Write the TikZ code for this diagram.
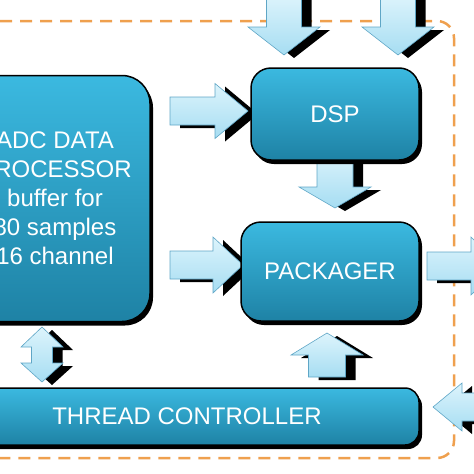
\documentclass[tikz,border=0pt]{standalone}
\usepackage{fontspec}
\setmainfont{Liberation Sans}
\usetikzlibrary{shadows}

\definecolor{boxtop}{HTML}{3BB9E0}
\definecolor{boxbot}{HTML}{1E82A5}
\definecolor{arrowtop}{HTML}{DDF4FC}
\definecolor{arrowbot}{HTML}{A6DDF2}
\definecolor{arrowline}{HTML}{5FA6C6}
\definecolor{frameorange}{HTML}{EFA04E}

\tikzset{
  block/.style={draw=black, line width=1.5pt, top color=boxtop, bottom color=boxbot,
    text=white, rounded corners=20pt, align=center, inner sep=0pt,
    font=\fontsize{24}{29}\selectfont,
    drop shadow={shadow xshift=3pt, shadow yshift=-4pt, fill=black, opacity=1}},
  bigarrow/.style={draw=arrowline, line width=0.6pt, top color=arrowtop, bottom color=arrowbot,
    drop shadow={shadow xshift=10pt, shadow yshift=-3pt, fill=black, opacity=1}},
  frame/.style={draw=frameorange, line width=2.5pt, dash pattern=on 12pt off 8pt, rounded corners=17pt}
}

\begin{document}
\begin{tikzpicture}[x=1pt, y=-1pt]
  \useasboundingbox (0,0) rectangle (474,474);
  \clip (0,0) rectangle (474,474);

  % dashed frame
  \draw[frame] (-20,21) -- (454,21) -- (454,458) -- (-20,458);

  % block arrows
  \draw[bigarrow] (266.5,-5) -- (266.5,27) -- (248,27) -- (284,55) -- (320,27) -- (301.5,27) -- (301.5,-5) -- cycle;
  \draw[bigarrow] (380.5,-5) -- (380.5,27) -- (362,27) -- (398,55) -- (434,27) -- (415.5,27) -- (415.5,-5) -- cycle;
  \draw[bigarrow] (170,97) -- (215,97) -- (215,83.5) -- (248,111) -- (215,138.5) -- (215,125) -- (170,125) -- cycle;
  \draw[bigarrow] (317,150) -- (353,150) -- (353,187) -- (371,187) -- (335,208) -- (299,187) -- (317,187) -- cycle;
  \draw[bigarrow] (170,251) -- (213,251) -- (213,237) -- (243,265) -- (213,293) -- (213,279) -- (170,279) -- cycle;
  \draw[bigarrow] (427,252) -- (471,252) -- (471,237) -- (501,266) -- (471,295) -- (471,280) -- (427,280) -- cycle;
  \draw[bigarrow] (308.5,377) -- (308.5,355) -- (291,355) -- (327,333) -- (363,355) -- (345.5,355) -- (345.5,377) -- cycle;
  \draw[bigarrow] (42,327) -- (63,347) -- (52.5,347) -- (52.5,363) -- (63,363) -- (42,382) -- (21,363) -- (31.5,363) -- (31.5,347) -- (21,347) -- cycle;
  \draw[bigarrow] (433,407) -- (462,383) -- (462,393) -- (490,393) -- (490,421) -- (462,421) -- (462,431) -- cycle;

  % blocks
  \node[block, minimum width=190pt, minimum height=246pt, rounded corners=28pt] (adc) at (55,198.5)
    {ADC DATA\\PROCESSOR\\buffer for\\80 samples\\16 channel};
  \node[block, minimum width=168pt, minimum height=92pt] (dsp) at (335,114) {DSP};
  \node[block, minimum width=178pt, minimum height=99pt] (packager) at (330,271.5) {PACKAGER};
  \node[block, minimum width=464pt, minimum height=57pt, rounded corners=14pt] (thread) at (187,416.5) {THREAD CONTROLLER};

\end{tikzpicture}
\end{document}
